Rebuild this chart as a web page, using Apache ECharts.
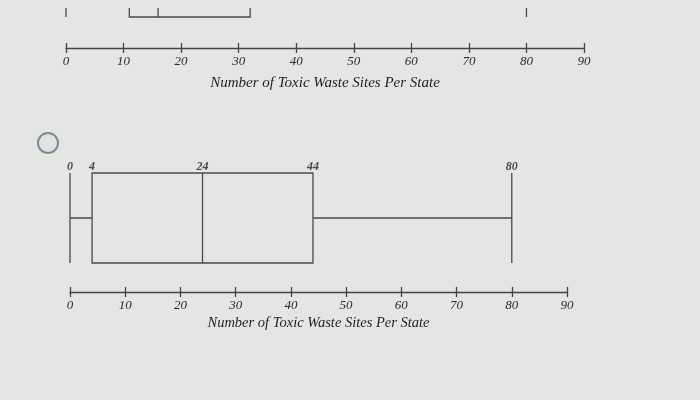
<!DOCTYPE html>
<html>
<head>
<meta charset="utf-8">
<script src="https://cdn.jsdelivr.net/npm/echarts@6/dist/echarts.min.js"></script>
<style>
  html, body { margin: 0; padding: 0; background: #e4e6e3; }
  #main { position: absolute; left: 0; top: 8px; width: 700px; height: 392px; }
</style>
</head>
<body>
<div id="main"></div>
<script>
// five-number summaries: min, Q1, median, Q3, max
const topBox = [0, 11, 16, 32, 80];
const bottomBox = [0, 4, 24, 44, 80];
const axisMin = 0;
const axisMax = 90;
const axisStep = 10;
const axisTitle = "Number of Toxic Waste Sites Per State";

const serif = "Liberation Serif";
const ink = "#444";

function makeAxes(gridIndex, nameGap, nameSize) {
  return [
    {
      gridIndex: gridIndex,
      type: "value",
      position: "bottom",
      min: axisMin,
      max: axisMax,
      interval: axisStep,
      splitLine: { show: false },
      axisLine: { show: true, lineStyle: { color: ink, width: 1.3 } },
      axisTick: { show: true, length: 5, lineStyle: { color: ink, width: 1.3 } },
      axisLabel: {
        margin: 7,
        color: "#2a2a2a",
        fontFamily: serif,
        fontStyle: "italic",
        fontSize: 13,
      },
      name: axisTitle,
      nameLocation: "middle",
      nameGap: nameGap,
      nameTextStyle: {
        color: "#1f1f1f",
        fontFamily: serif,
        fontStyle: "italic",
        fontSize: nameSize,
      },
    },
    {
      // second copy of the axis so ticks cross the line
      gridIndex: gridIndex,
      type: "value",
      position: "bottom",
      min: axisMin,
      max: axisMax,
      interval: axisStep,
      splitLine: { show: false },
      axisLine: { show: false },
      axisTick: { show: true, inside: true, length: 5, lineStyle: { color: ink, width: 1.3 } },
      axisLabel: { show: false },
    },
  ];
}

const boxStyle = {
  color: "rgba(0,0,0,0)",
  borderColor: "#4a4a4a",
  borderWidth: 1.3,
};

let option = {
  animation: false,
  backgroundColor: "transparent",
  grid: [
    { left: 66, right: 116, top: -112, height: 152, outerBoundsMode: "none", containLabel: false },
    { left: 70, right: 133, top: 136, height: 148, outerBoundsMode: "none", containLabel: false },
  ],
  xAxis: [].concat(makeAxes(0, 28, 15), makeAxes(1, 24, 14.5)),
  yAxis: [
    { gridIndex: 0, type: "category", data: ["a"], show: false },
    { gridIndex: 1, type: "category", data: ["b"], show: false },
  ],
  graphic: [
    {
      type: "circle",
      shape: { cx: 48, cy: 135, r: 10 },
      style: { fill: "#dfe3e6", stroke: "#7d8a96", lineWidth: 2 },
    },
  ],
  series: [
    {
      type: "boxplot",
      xAxisIndex: 0,
      yAxisIndex: 0,
      boxWidth: [90, 90],
      itemStyle: boxStyle,
      data: [topBox],
    },
    {
      type: "boxplot",
      xAxisIndex: 2,
      yAxisIndex: 1,
      boxWidth: [90, 90],
      itemStyle: boxStyle,
      data: [bottomBox],
    },
    {
      type: "scatter",
      xAxisIndex: 2,
      yAxisIndex: 1,
      symbolSize: 0,
      label: {
        show: true,
        position: "inside",
        offset: [0, -51],
        color: "#222",
        fontFamily: serif,
        fontStyle: "italic",
        fontWeight: "bold",
        fontSize: 12,
        formatter: (p) => String(p.value[0]),
      },
      data: bottomBox.map((v) => [v, "b"]),
    },
  ],
};

let myChart = echarts.init(document.getElementById("main"));
option && myChart.setOption(option);
</script>
</body>
</html>
